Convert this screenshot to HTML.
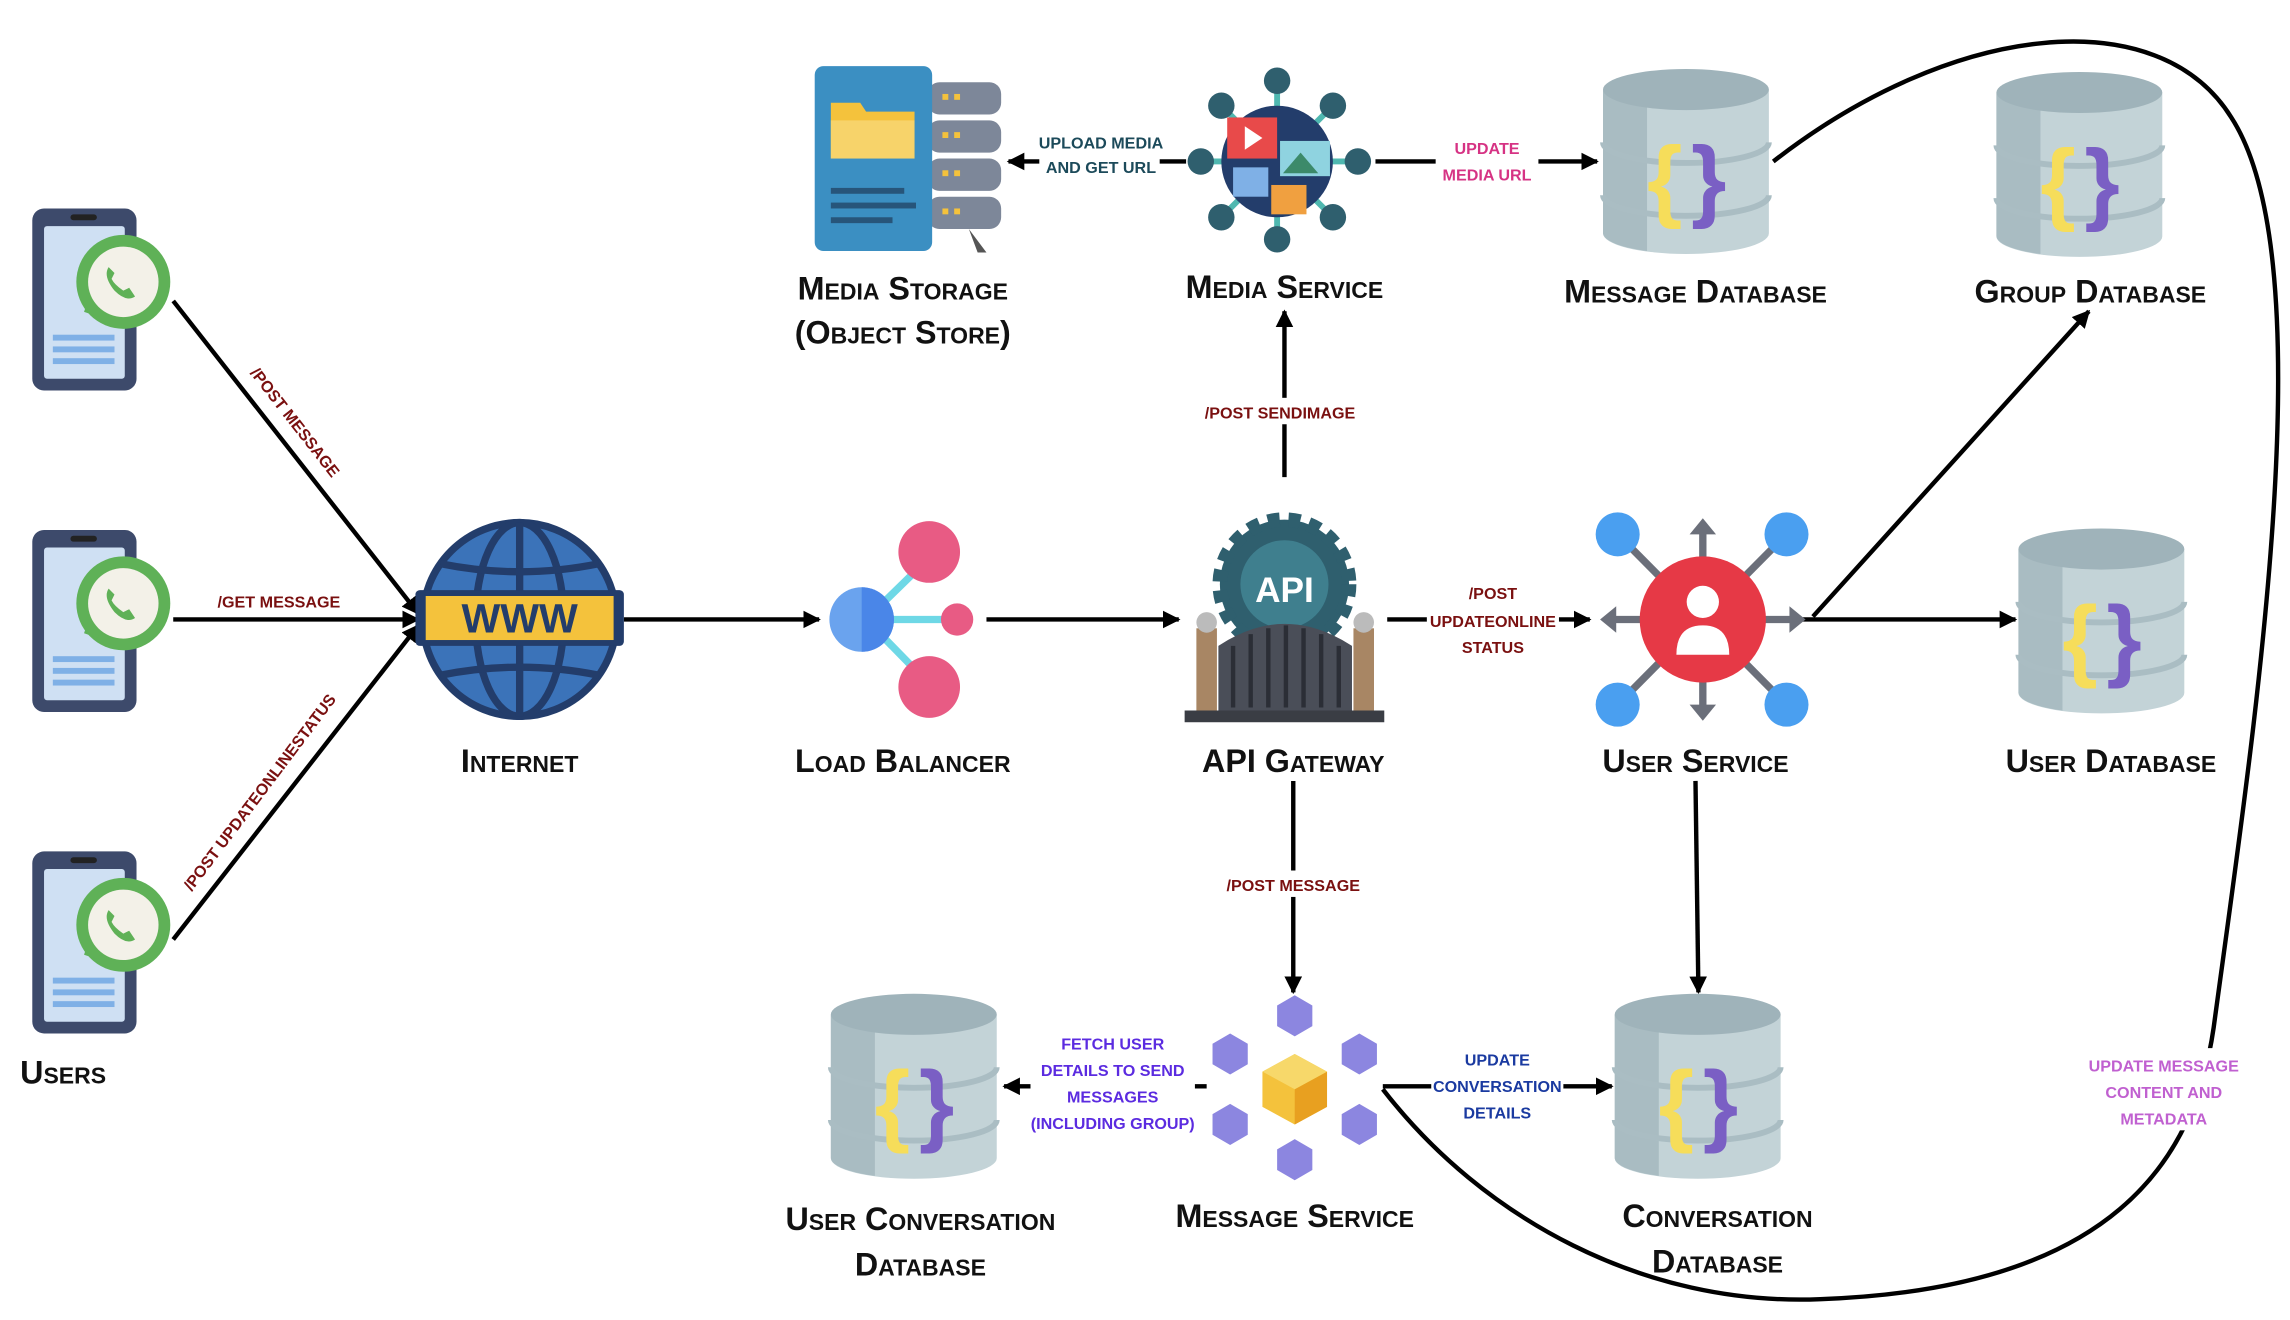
<!DOCTYPE html>
<html><head><meta charset="utf-8"><style>
html,body{margin:0;padding:0;background:#fff;}
svg{display:block;}
text{font-family:"Liberation Sans Narrow","Liberation Sans",sans-serif;font-weight:bold;font-variant:small-caps;text-anchor:middle;}
.big{font-size:22px;fill:#111;}
.sm{font-size:11px;font-variant:normal;text-transform:uppercase;}
</style></head><body>
<svg width="2290" height="1320" viewBox="0 0 1560 899.2" xmlns="http://www.w3.org/2000/svg">
<defs>
<marker id="ar" viewBox="0 0 10 10" refX="9" refY="5" markerWidth="4" markerHeight="4" orient="auto"><path d="M0,0L10,5L0,10z" fill="#000"/></marker>
<g id="phone">
<rect x="0" y="0" width="71" height="124" rx="8" fill="#3d4a6b"/>
<rect x="8" y="12" width="55" height="104" rx="2" fill="#cfe0f3"/>
<rect x="26" y="4" width="18" height="4" rx="2" fill="#222"/>
<rect x="14" y="86" width="42" height="4" fill="#7fb0e6"/><rect x="14" y="94" width="42" height="4" fill="#7fb0e6"/><rect x="14" y="102" width="42" height="4" fill="#7fb0e6"/>
<circle cx="62" cy="50" r="32" fill="#5fb157"/>
<path d="M40,72 L44,60" stroke="#5fb157" stroke-width="10"/>
<circle cx="62" cy="50" r="24" fill="#f3f1e8"/>
<path d="M52,40 q-4,6 4,16 q8,8 14,4 l-4,-6 l-4,2 q-6,-4 -8,-8 l2,-4z" fill="#5fb157"/>
</g>
<g id="cyl">
<path d="M0,14 L0,112 A56.5,14 0 0 0 113,112 L113,14z" fill="#c3d3d7"/>
<path d="M0,14 L0,112 A56.5,14 0 0 0 30,124 L30,26 A56.5,14 0 0 1 0,14z" fill="#a9bcc2"/>
<ellipse cx="56.5" cy="14" rx="56.5" ry="14" fill="#9fb3ba"/>
<path d="M0,50 A56.5,14 0 0 0 113,50 M0,86 A56.5,14 0 0 0 113,86" stroke="#aabdc3" stroke-width="4" fill="none"/>
<text x="42" y="96" style="font-size:62px;fill:#f6dd5a;font-weight:bold;font-variant:normal">{</text>
<text x="72" y="96" style="font-size:62px;fill:#7a5fc4;font-weight:bold;font-variant:normal">}</text>
</g>
</defs>

<use href="#phone" x="22" y="142"/><use href="#phone" x="22" y="361"/><use href="#phone" x="22" y="580"/>
<text class="big" x="43" y="738">Users</text>

<g stroke="#000" stroke-width="3" fill="none" marker-end="url(#ar)">
<line x1="118" y1="205" x2="285" y2="418"/>
<line x1="118" y1="422" x2="285" y2="422"/>
<line x1="118" y1="640" x2="285" y2="426"/>
<line x1="425" y1="422" x2="558" y2="422"/>
<line x1="672" y1="422" x2="803" y2="422"/>
<line x1="875" y1="325" x2="875" y2="212"/>
<line x1="808" y1="110" x2="687" y2="110"/>
<line x1="937" y1="110" x2="1088" y2="110"/>
<line x1="945" y1="422" x2="1083" y2="422"/>
<line x1="1228" y1="422" x2="1373" y2="422"/>
<line x1="1235" y1="420" x2="1423" y2="212"/>
<line x1="1155" y1="532" x2="1157" y2="676"/>
<line x1="881" y1="532" x2="881" y2="676"/>
<line x1="822" y1="740" x2="684" y2="740"/>
<line x1="942" y1="740" x2="1098" y2="740"/>
</g>
<path d="M942,742 C1010,830 1120,890 1240,885 C1440,878 1495,790 1508,700 C1535,500 1585,180 1520,80 C1470,0 1330,15 1208,110" stroke="#000" stroke-width="3" fill="none"/>

<rect x="150" y="400" width="85" height="18" fill="#fff"/>
<text class="sm" x="190" y="414" fill="#7a1010">/GET message</text>
<text class="sm" fill="#7a1010" transform="translate(198,290) rotate(52)">/POST message</text>
<text class="sm" fill="#7a1010" transform="translate(180,542) rotate(-53)">/POST updateOnlineStatus</text>

<circle cx="354" cy="422" r="68" fill="#3b73b9"/>
<g stroke="#233d6b" stroke-width="5" fill="none">
<circle cx="354" cy="422" r="66"/>
<ellipse cx="354" cy="422" rx="30" ry="66"/>
<line x1="354" y1="356" x2="354" y2="488"/>
<path d="M300,384 Q354,395 408,384 M300,460 Q354,449 408,460"/>
</g>
<rect x="283" y="402" width="142" height="38" rx="3" fill="#233d6b"/>
<rect x="290" y="406" width="128" height="30" fill="#f4c23c"/>
<text x="354" y="431" style="font-size:28px;fill:#233d6b;font-variant:normal;font-family:'Liberation Sans',sans-serif">WWW</text>
<text class="big" x="354" y="526">Internet</text>

<g stroke="#6ed8e6" stroke-width="5"><line x1="590" y1="422" x2="633" y2="380"/><line x1="590" y1="422" x2="633" y2="466"/><line x1="590" y1="422" x2="650" y2="422"/></g>
<circle cx="633" cy="376" r="21" fill="#e85b84"/><circle cx="633" cy="468" r="21" fill="#e85b84"/><circle cx="652" cy="422" r="11" fill="#e85b84"/>
<circle cx="587" cy="422" r="22" fill="#6aa3ee"/><path d="M587,400 A22,22 0 0 1 587,444z" fill="#4a86e8"/>
<text class="big" x="615" y="526">Load Balancer</text>

<circle cx="875" cy="398" r="44" fill="#2f5f6e" stroke="#2f5f6e" stroke-width="10" stroke-dasharray="8 6"/>
<circle cx="875" cy="398" r="30" fill="#3f7f8e"/>
<text x="875" y="410" style="font-size:24px;fill:#fff;font-variant:normal">API</text>
<rect x="815" y="428" width="14" height="58" fill="#a88664"/><rect x="922" y="428" width="14" height="58" fill="#a88664"/>
<circle cx="822" cy="424" r="7" fill="#bbb"/><circle cx="929" cy="424" r="7" fill="#bbb"/>
<path d="M830,486 L830,440 Q875,410 921,440 L921,486z" fill="#4a4e58"/>
<g stroke="#2b2e36" stroke-width="3"><line x1="840" y1="440" x2="840" y2="482"/><line x1="852" y1="432" x2="852" y2="482"/><line x1="864" y1="428" x2="864" y2="482"/><line x1="876" y1="426" x2="876" y2="482"/><line x1="888" y1="428" x2="888" y2="482"/><line x1="900" y1="432" x2="900" y2="482"/><line x1="912" y1="440" x2="912" y2="482"/></g>
<rect x="807" y="484" width="136" height="8" fill="#3a3d44"/>
<text class="big" x="881" y="526">API Gateway</text>
<rect x="820" y="271" width="105" height="18" fill="#fff"/>
<text class="sm" x="872" y="285" fill="#7a1010">/POST sendImage</text>
<rect x="835" y="593" width="95" height="18" fill="#fff"/>
<text class="sm" x="881" y="607" fill="#7a1010">/POST message</text>
<rect x="972" y="394" width="90" height="52" fill="#fff"/>
<text class="sm" x="1017" y="408" fill="#7a1010">/POST</text>
<text class="sm" x="1017" y="427" fill="#7a1010">updateOnline</text>
<text class="sm" x="1017" y="445" fill="#7a1010">Status</text>

<g stroke="#4fb8b0" stroke-width="4">
<line x1="870" y1="110" x2="870" y2="55"/><line x1="870" y1="110" x2="870" y2="163"/><line x1="870" y1="110" x2="832" y2="72"/><line x1="870" y1="110" x2="908" y2="72"/><line x1="870" y1="110" x2="832" y2="148"/><line x1="870" y1="110" x2="908" y2="148"/><line x1="870" y1="110" x2="818" y2="110"/><line x1="870" y1="110" x2="925" y2="110"/></g>
<g fill="#2f5f6e"><circle cx="870" cy="55" r="9"/><circle cx="870" cy="163" r="9"/><circle cx="832" cy="72" r="9"/><circle cx="908" cy="72" r="9"/><circle cx="832" cy="148" r="9"/><circle cx="908" cy="148" r="9"/><circle cx="818" cy="110" r="9"/><circle cx="925" cy="110" r="9"/></g>
<circle cx="870" cy="110" r="38" fill="#233d6b"/>
<rect x="836" y="80" width="34" height="28" fill="#e84a4a"/><path d="M848,86 L860,94 L848,102z" fill="#fff"/>
<rect x="872" y="96" width="34" height="24" fill="#8fd3e0"/><path d="M874,118 L886,104 L898,118z" fill="#3c8a6a"/>
<rect x="840" y="114" width="24" height="20" fill="#7fb0e6"/>
<rect x="866" y="126" width="24" height="20" fill="#f0a040"/>
<text class="big" x="875" y="203">Media Service</text>
<rect x="708" y="86" width="82" height="36" fill="#fff"/>
<text class="sm" x="750" y="101" fill="#1c4a5a">Upload media</text>
<text class="sm" x="750" y="118" fill="#1c4a5a">and get URL</text>
<rect x="978" y="90" width="70" height="36" fill="#fff"/>
<text class="sm" x="1013" y="105" fill="#d63384">Update</text>
<text class="sm" x="1013" y="123" fill="#d63384">media URL</text>

<rect x="632" y="56" width="50" height="22" rx="8" fill="#7d8799"/><rect x="632" y="82" width="50" height="22" rx="8" fill="#7d8799"/><rect x="632" y="108" width="50" height="22" rx="8" fill="#7d8799"/><rect x="632" y="134" width="50" height="22" rx="8" fill="#7d8799"/>
<path d="M660,156 L672,172 L666,172z" fill="#555"/>
<g fill="#f4c23c"><rect x="642" y="64" width="4" height="4"/><rect x="650" y="64" width="4" height="4"/><rect x="642" y="90" width="4" height="4"/><rect x="650" y="90" width="4" height="4"/><rect x="642" y="116" width="4" height="4"/><rect x="650" y="116" width="4" height="4"/><rect x="642" y="142" width="4" height="4"/><rect x="650" y="142" width="4" height="4"/></g>
<rect x="555" y="45" width="80" height="126" rx="6" fill="#3b8fc2"/>
<path d="M566,70 L586,70 L590,76 L623,76 L623,108 L566,108z" fill="#f4c23c"/>
<rect x="566" y="82" width="57" height="26" fill="#f7d36a"/>
<g fill="#27557a"><rect x="566" y="128" width="50" height="4"/><rect x="566" y="138" width="58" height="4"/><rect x="566" y="148" width="42" height="4"/></g>
<text class="big" x="615" y="204">Media Storage</text>
<text class="big" x="615" y="234">(Object Store)</text>

<use href="#cyl" x="1092" y="47"/><text class="big" x="1155" y="206">Message Database</text>
<use href="#cyl" x="1360" y="49"/><text class="big" x="1424" y="206">Group Database</text>
<use href="#cyl" x="1375" y="360"/><text class="big" x="1438" y="526">User Database</text>
<use href="#cyl" x="566" y="677"/><text class="big" x="627" y="838">User Conversation</text><text class="big" x="627" y="869">Database</text>
<use href="#cyl" x="1100" y="677"/><text class="big" x="1170" y="836">Conversation</text><text class="big" x="1170" y="867">Database</text>

<g stroke="#6b6f7a" stroke-width="5"><line x1="1102" y1="364" x2="1217" y2="480"/><line x1="1217" y1="364" x2="1102" y2="480"/><line x1="1160" y1="358" x2="1160" y2="488"/><line x1="1094" y1="422" x2="1226" y2="422"/></g>
<g fill="#6b6f7a"><path d="M1160,353 l-9,11 h18z"/><path d="M1160,491 l-9,-11 h18z"/><path d="M1090,422 l11,-9 v18z"/><path d="M1230,422 l-11,-9 v18z"/></g>
<g fill="#4a9ff0"><circle cx="1102" cy="364" r="15"/><circle cx="1217" cy="364" r="15"/><circle cx="1102" cy="480" r="15"/><circle cx="1217" cy="480" r="15"/></g>
<circle cx="1160" cy="422" r="43" fill="#e63946"/>
<circle cx="1160" cy="410" r="11" fill="#fff"/><path d="M1142,446 q0,-20 18,-20 q18,0 18,20z" fill="#fff"/>
<text class="big" x="1155" y="526">User Service</text>

<g fill="#8c86e0"><path d="M882,678 l12,7 v14 l-12,7 l-12,-7 v-14z"/><path d="M882,776 l12,7 v14 l-12,7 l-12,-7 v-14z"/><path d="M838,704 l12,7 v14 l-12,7 l-12,-7 v-14z"/><path d="M926,704 l12,7 v14 l-12,7 l-12,-7 v-14z"/><path d="M838,752 l12,7 v14 l-12,7 l-12,-7 v-14z"/><path d="M926,752 l12,7 v14 l-12,7 l-12,-7 v-14z"/></g>
<path d="M882,718 l22,12 v24 l-22,12 l-22,-12 v-24z" fill="#f4c23c"/>
<path d="M882,742 l22,-12 v24 l-22,12z" fill="#e8a020"/>
<path d="M882,718 l22,12 l-22,12 l-22,-12z" fill="#f7d86a"/>
<text class="big" x="882" y="836">Message Service</text>
<rect x="702" y="700" width="112" height="74" fill="#fff"/>
<text class="sm" x="758" y="715" fill="#5b2be0">Fetch user</text>
<text class="sm" x="758" y="733" fill="#5b2be0">details to send</text>
<text class="sm" x="758" y="751" fill="#5b2be0">messages</text>
<text class="sm" x="758" y="769" fill="#5b2be0">(including Group)</text>
<rect x="975" y="710" width="90" height="56" fill="#fff"/>
<text class="sm" x="1020" y="726" fill="#1a3aa0">Update</text>
<text class="sm" x="1020" y="744" fill="#1a3aa0">Conversation</text>
<text class="sm" x="1020" y="762" fill="#1a3aa0">details</text>
<rect x="1420" y="714" width="108" height="56" fill="#fff"/>
<text class="sm" x="1474" y="730" fill="#c060d0">Update message</text>
<text class="sm" x="1474" y="748" fill="#c060d0">content and</text>
<text class="sm" x="1474" y="766" fill="#c060d0">metadata</text>
</svg>
</body></html>
